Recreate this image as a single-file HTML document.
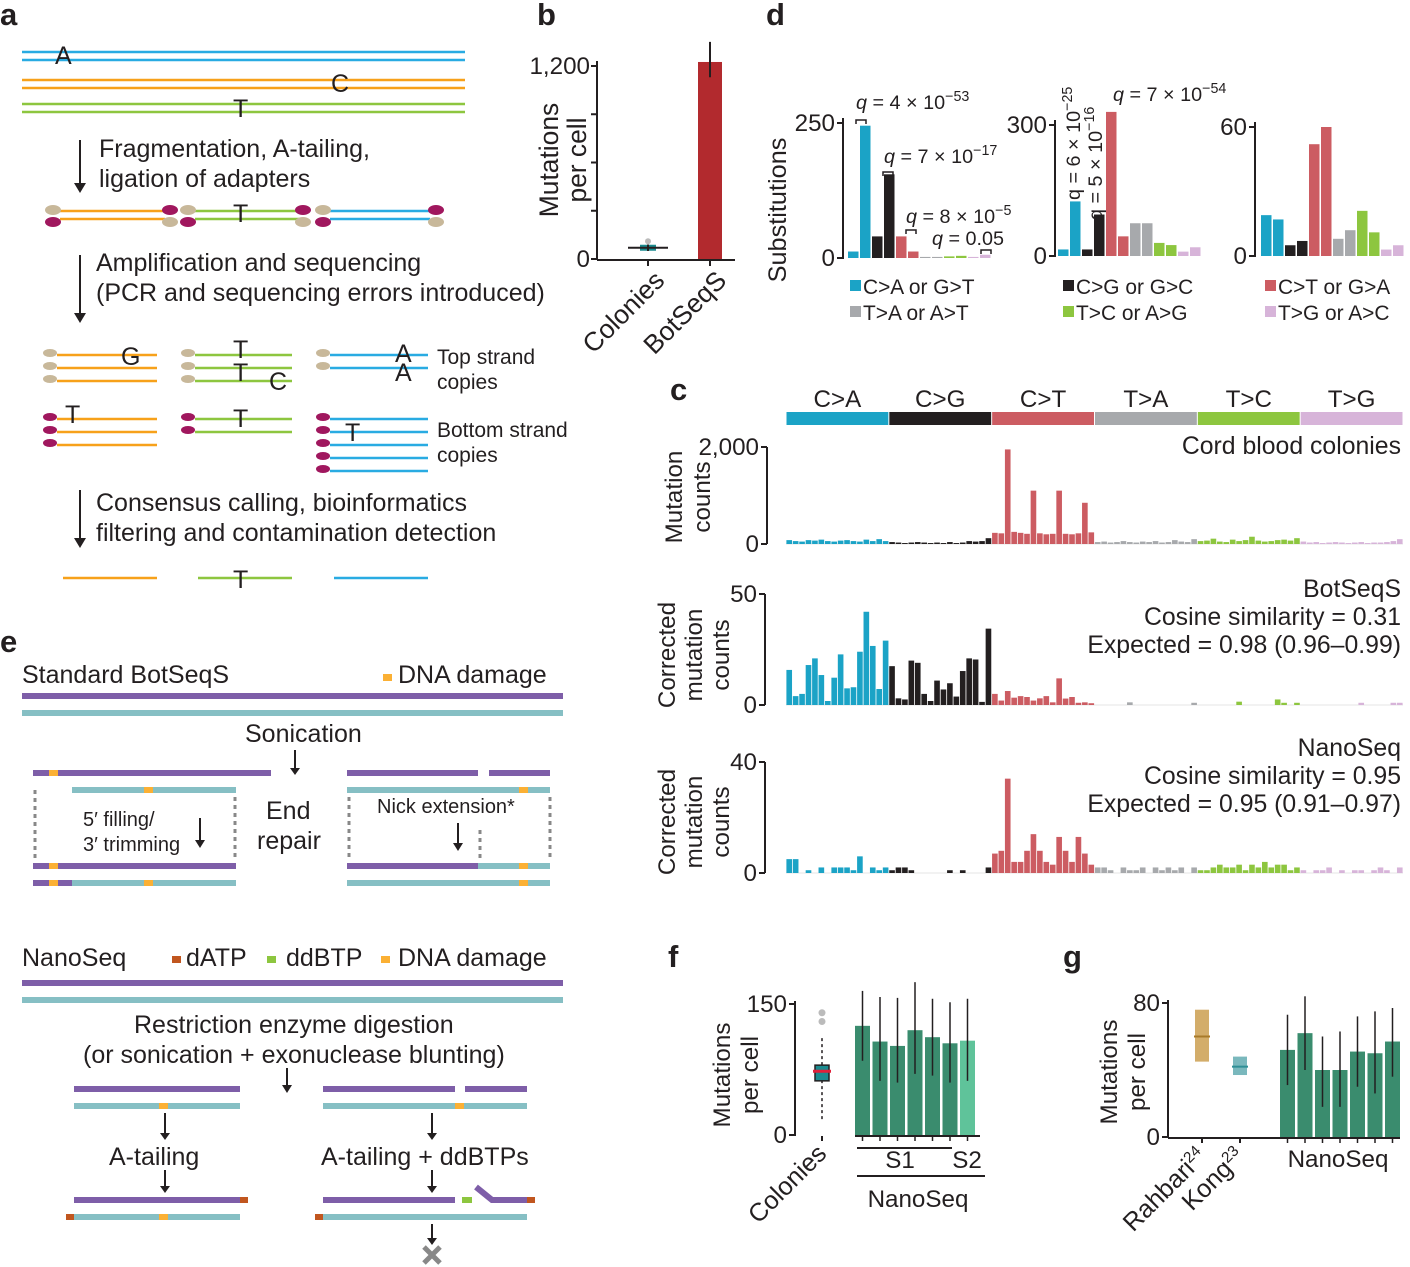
<!DOCTYPE html>
<html><head><meta charset="utf-8">
<style>
html,body{margin:0;padding:0;background:#fff}
svg{display:block;font-family:"Liberation Sans",Arial,sans-serif}
text{fill:#231f20}
</style></head>
<body>
<svg id="fig" width="1410" height="1267" viewBox="0 0 1410 1267" xmlns="http://www.w3.org/2000/svg">
<!-- Panel labels -->
<g font-weight="bold" font-size="31">
<text x="0" y="25">a</text><text x="537" y="25">b</text><text x="766" y="25">d</text>
<text x="670" y="400">c</text><text x="0" y="652">e</text><text x="668" y="967">f</text><text x="1063" y="967">g</text>
</g>

<!-- Panel a -->
<g stroke-width="2.5" fill="none">
<line x1="22" y1="52" x2="465" y2="52" stroke="#29abe2"/><line x1="22" y1="60" x2="465" y2="60" stroke="#29abe2"/>
<line x1="22" y1="80" x2="465" y2="80" stroke="#f7a11a"/><line x1="22" y1="88" x2="465" y2="88" stroke="#f7a11a"/>
<line x1="22" y1="104" x2="465" y2="104" stroke="#8dc63f"/><line x1="22" y1="112" x2="465" y2="112" stroke="#8dc63f"/>
<line x1="80" y1="140" x2="80" y2="185" stroke="#231f20" stroke-width="2"/>
<line x1="80" y1="255" x2="80" y2="315" stroke="#231f20" stroke-width="2"/>
<line x1="80" y1="490" x2="80" y2="540" stroke="#231f20" stroke-width="2"/>
<g fill="#231f20" stroke="none"><polygon points="74,183 86,183 80,193"/><polygon points="74,313 86,313 80,323"/><polygon points="74,538 86,538 80,548"/></g>
<line x1="60" y1="211" x2="165" y2="211" stroke="#f7a11a"/><line x1="60" y1="219" x2="165" y2="219" stroke="#f7a11a"/>
<line x1="195" y1="211" x2="300" y2="211" stroke="#8dc63f"/><line x1="195" y1="219" x2="300" y2="219" stroke="#8dc63f"/>
<line x1="330" y1="211" x2="430" y2="211" stroke="#29abe2"/><line x1="330" y1="219" x2="430" y2="219" stroke="#29abe2"/>
<g stroke="none"><ellipse cx="53" cy="222" rx="8" ry="5" fill="#a0175e"/><ellipse cx="53" cy="210" rx="8" ry="5" fill="#c8b89a"/>
<ellipse cx="170" cy="210" rx="8" ry="5" fill="#a0175e"/><ellipse cx="170" cy="222" rx="8" ry="5" fill="#c8b89a"/>
<ellipse cx="188" cy="222" rx="8" ry="5" fill="#a0175e"/><ellipse cx="188" cy="210" rx="8" ry="5" fill="#c8b89a"/>
<ellipse cx="303" cy="210" rx="8" ry="5" fill="#a0175e"/><ellipse cx="303" cy="222" rx="8" ry="5" fill="#c8b89a"/>
<ellipse cx="323" cy="222" rx="8" ry="5" fill="#a0175e"/><ellipse cx="323" cy="210" rx="8" ry="5" fill="#c8b89a"/>
<ellipse cx="436" cy="210" rx="8" ry="5" fill="#a0175e"/><ellipse cx="436" cy="222" rx="8" ry="5" fill="#c8b89a"/></g>
<g id="copies"></g>
<line x1="63" y1="578" x2="157" y2="578" stroke="#f7a11a"/><line x1="198" y1="578" x2="292" y2="578" stroke="#8dc63f"/><line x1="334" y1="578" x2="428" y2="578" stroke="#29abe2"/>
</g>
<g font-size="25">
<text x="55" y="64">A</text><text x="331" y="92">C</text><text x="233" y="117">T</text>
<text x="233" y="222">T</text>
<text x="99" y="157">Fragmentation, A-tailing,</text><text x="99" y="187">ligation of adapters</text>
<text x="96" y="271">Amplification and sequencing</text><text x="96" y="301">(PCR and sequencing errors introduced)</text>
<text x="96" y="511">Consensus calling, bioinformatics</text><text x="96" y="541">filtering and contamination detection</text>
<text x="233" y="588">T</text>
<g><text x="121" y="365" fill="#2e3192">G</text><text x="269" y="390" fill="#2e3192">C</text><text x="65" y="423" fill="#2e3192">T</text><text x="345" y="441" fill="#2e3192">T</text></g>
<text x="395" y="362">A</text><text x="395" y="381">A</text>
<text x="233" y="358">T</text><text x="233" y="381">T</text><text x="233" y="427">T</text>
<g font-size="21"><text x="437" y="364">Top strand</text><text x="437" y="389">copies</text><text x="437" y="437">Bottom strand</text><text x="437" y="462">copies</text></g>
</g>

<g id="panel-b"></g>
<g id="panel-d"></g>
<g id="panel-c"></g>
<g id="panel-f"></g>
<g id="panel-g"></g>

<!-- Panel e -->
<g stroke-width="6" fill="none">
<line x1="22" y1="696" x2="563" y2="696" stroke="#7e5ea8"/><line x1="22" y1="713" x2="563" y2="713" stroke="#86bfc4"/>
<line x1="33" y1="773" x2="271" y2="773" stroke="#7e5ea8"/><line x1="72" y1="790" x2="236" y2="790" stroke="#86bfc4"/>
<line x1="33" y1="866" x2="236" y2="866" stroke="#7e5ea8"/><line x1="33" y1="883" x2="72" y2="883" stroke="#7e5ea8"/><line x1="72" y1="883" x2="236" y2="883" stroke="#86bfc4"/>
<line x1="347" y1="773" x2="478" y2="773" stroke="#7e5ea8"/><line x1="489" y1="773" x2="550" y2="773" stroke="#7e5ea8"/><line x1="347" y1="790" x2="550" y2="790" stroke="#86bfc4"/>
<line x1="347" y1="866" x2="478" y2="866" stroke="#7e5ea8"/><line x1="478" y1="866" x2="550" y2="866" stroke="#86bfc4"/><line x1="347" y1="883" x2="550" y2="883" stroke="#86bfc4"/>
<line x1="22" y1="983" x2="563" y2="983" stroke="#7e5ea8"/><line x1="22" y1="1000" x2="563" y2="1000" stroke="#86bfc4"/>
<line x1="74" y1="1089" x2="240" y2="1089" stroke="#7e5ea8"/><line x1="74" y1="1106" x2="240" y2="1106" stroke="#86bfc4"/>
<line x1="323" y1="1089" x2="455" y2="1089" stroke="#7e5ea8"/><line x1="465" y1="1089" x2="527" y2="1089" stroke="#7e5ea8"/><line x1="323" y1="1106" x2="527" y2="1106" stroke="#86bfc4"/>
<line x1="74" y1="1200" x2="240" y2="1200" stroke="#7e5ea8"/><line x1="74" y1="1217" x2="240" y2="1217" stroke="#86bfc4"/>
<line x1="323" y1="1200" x2="455" y2="1200" stroke="#7e5ea8"/><polyline points="476,1187 492,1200 527,1200" stroke="#7e5ea8"/><line x1="323" y1="1217" x2="527" y2="1217" stroke="#86bfc4"/>
<g stroke="#888" stroke-width="3" stroke-dasharray="4,4"><line x1="35" y1="790" x2="35" y2="860"/><line x1="235" y1="797" x2="235" y2="860"/><line x1="349" y1="797" x2="349" y2="860"/><line x1="550" y1="797" x2="550" y2="860"/><line x1="480" y1="830" x2="480" y2="860"/></g>
<g stroke="none"><rect x="49" y="770" width="9" height="6" fill="#fbb034"/><rect x="144" y="787" width="9" height="6" fill="#fbb034"/><rect x="49" y="863" width="9" height="6" fill="#fbb034"/><rect x="49" y="880" width="9" height="6" fill="#fbb034"/><rect x="144" y="880" width="9" height="6" fill="#fbb034"/>
<rect x="519" y="787" width="9" height="6" fill="#fbb034"/><rect x="519" y="863" width="9" height="6" fill="#fbb034"/><rect x="519" y="880" width="9" height="6" fill="#fbb034"/>
<rect x="159" y="1103" width="9" height="6" fill="#fbb034"/><rect x="159" y="1214" width="9" height="6" fill="#fbb034"/><rect x="455" y="1103" width="9" height="6" fill="#fbb034"/>
<rect x="240" y="1197" width="8" height="6" fill="#c1561f"/><rect x="66" y="1214" width="8" height="6" fill="#c1561f"/><rect x="527" y="1197" width="8" height="6" fill="#c1561f"/><rect x="315" y="1214" width="8" height="6" fill="#c1561f"/><rect x="462" y="1197" width="10" height="6" fill="#8dc63f"/>
<rect x="383" y="674" width="9" height="7" fill="#fbb034"/><rect x="172" y="956" width="9" height="7" fill="#c1561f"/><rect x="267" y="956" width="9" height="7" fill="#8dc63f"/><rect x="381" y="956" width="9" height="7" fill="#fbb034"/></g>
<g stroke="#231f20" stroke-width="2"><line x1="295" y1="750" x2="295" y2="768"/><line x1="200" y1="818" x2="200" y2="840"/><line x1="458" y1="823" x2="458" y2="843"/><line x1="287" y1="1068" x2="287" y2="1085"/><line x1="165" y1="1113" x2="165" y2="1133"/><line x1="165" y1="1170" x2="165" y2="1186"/><line x1="432" y1="1113" x2="432" y2="1133"/><line x1="432" y1="1170" x2="432" y2="1186"/><line x1="432" y1="1224" x2="432" y2="1238"/></g>
<g fill="#231f20" stroke="none"><polygon points="290,768 300,768 295,775"/><polygon points="195,840 205,840 200,848"/><polygon points="453,843 463,843 458,851"/><polygon points="282,1085 292,1085 287,1093"/><polygon points="160,1133 170,1133 165,1140"/><polygon points="160,1186 170,1186 165,1193"/><polygon points="427,1133 437,1133 432,1140"/><polygon points="427,1186 437,1186 432,1193"/><polygon points="427,1238 437,1238 432,1245"/></g>
<g stroke="#888" stroke-width="5"><line x1="424" y1="1247" x2="440" y2="1263"/><line x1="440" y1="1247" x2="424" y2="1263"/></g>
</g>
<g font-size="25">
<text x="22" y="683">Standard BotSeqS</text><text x="398" y="683">DNA damage</text>
<text x="245" y="742">Sonication</text><text x="266" y="819">End</text><text x="257" y="849">repair</text>
<text x="22" y="966">NanoSeq</text><text x="186" y="966">dATP</text><text x="286" y="966">ddBTP</text><text x="398" y="966">DNA damage</text>
<text x="134" y="1033">Restriction enzyme digestion</text><text x="83" y="1063">(or sonication + exonuclease blunting)</text>
<text x="109" y="1165">A-tailing</text><text x="321" y="1165">A-tailing + ddBTPs</text>
<g font-size="20"><text x="83" y="826">5′ filling/</text><text x="83" y="851">3′ trimming</text><text x="377" y="813">Nick extension*</text></g>
</g>

<script>
const NS="http://www.w3.org/2000/svg";
function mk(p,t,a,txt){const e=document.createElementNS(NS,t);for(const k in a){let v=a[k];if(k==="font-size")v=(+v*1.1).toFixed(1);e.setAttribute(k,v);}if(txt!==undefined)e.textContent=txt;p.appendChild(e);return e;}
const COLS=["#1ba3c6","#231f20","#cc5c62","#a7a9ac","#8dc63f","#d7b4d9"];
const TYPES=["C>A","C>G","C>T","T>A","T>C","T>G"];

(function(){const g=document.getElementById("copies");
const groups=[[45,157,"#f7a11a",[355,368,381],true],[183,292,"#8dc63f",[355,368,381],true],[318,428,"#29abe2",[355,368],true],
[45,157,"#f7a11a",[419,432,445],false],[183,292,"#8dc63f",[419,432],false],[318,428,"#29abe2",[419,432,445,458,471],false]];
groups.forEach(gr=>{gr[3].forEach(y=>{const l=mk(g,"line",{x1:gr[0]+12,y1:y,x2:gr[1],y2:y,stroke:gr[2],"stroke-width":2.5});


const e=mk(g,"ellipse",{cx:gr[0]+5,cy:y-2,rx:7,ry:4,fill:gr[4]?"#c8b89a":"#a0175e",stroke:"none"});

});});})();

/* ---------- Panel b data ---------- */
const bCats=["Colonies","BotSeqS"];
const bVals=[70,1225];
const bErrLo=[50,1130];
const bErrHi=[90,1350];
const bTicks=[0,1200];
(function(){const g=document.getElementById("panel-b");
const y=v=>259-v*(193/1200);
mk(g,"line",{x1:597,y1:y(1200)-5,x2:597,y2:260,stroke:"#231f20","stroke-width":2});
mk(g,"line",{x1:597,y1:260,x2:735,y2:260,stroke:"#231f20","stroke-width":2});
[0,300,600,900,1200].forEach(t=>mk(g,"line",{x1:591,y1:y(t),x2:597,y2:y(t),stroke:"#231f20","stroke-width":2}));
bTicks.forEach(t=>{const tx=mk(g,"text",{x:590,y:y(t)+8,"text-anchor":"end","font-size":22},t.toLocaleString("en-US"));

});
const xs=[648,710];
bCats.forEach((c,i)=>{
 if(i===1){const r=mk(g,"rect",{x:xs[i]-12,y:y(bVals[i]),width:24,height:259-y(bVals[i]),fill:"#b22a2e"});
  
  }
 else{const r=mk(g,"rect",{x:xs[i]-8,y:y(bVals[i])-3,width:16,height:6,fill:"#1b8b8f"});
  
  
  mk(g,"line",{x1:xs[i]-20,y1:y(bVals[i]),x2:xs[i]+20,y2:y(bVals[i]),stroke:"#231f20","stroke-width":2});
  mk(g,"circle",{cx:xs[i],cy:y(110),r:3,fill:"#bbb"});}
 mk(g,"line",{x1:xs[i],y1:y(bErrHi[i]),x2:xs[i],y2:y(bErrLo[i]),stroke:"#231f20","stroke-width":2});
 mk(g,"line",{x1:xs[i],y1:260,x2:xs[i],y2:266,stroke:"#231f20","stroke-width":2});
 const t=mk(g,"text",{x:xs[i]+18,y:282,"text-anchor":"end","font-size":24,transform:`rotate(-45 ${xs[i]+18} 282)`},c);
 
 });
const yt=mk(g,"text",{x:558,y:160,"text-anchor":"middle","font-size":24,transform:"rotate(-90 558 160)"},"Mutations");


mk(g,"text",{x:586,y:160,"text-anchor":"middle","font-size":24,transform:"rotate(-90 586 160)"},"per cell");
})();

/* ---------- Panel d data ---------- */
const dPanel1=[12,245,40,155,40,12,2,2,3,4,2,6];
const dPanel2=[15,125,15,95,330,45,75,75,30,25,10,20];
const dPanel3=[19,17,5,7,52,60,8,12,21,11,3,5];
const dTickMax=[250,300,60];
(function(){const g=document.getElementById("panel-d");
const defs=[{d:dPanel1,ax:843,base:258,top:123,max:dTickMax[0],x0:853},{d:dPanel2,ax:1055,base:256,top:125,max:dTickMax[1],x0:1063},{d:dPanel3,ax:1255,base:256,top:127,max:dTickMax[2],x0:1266}];
defs.forEach((p,pi)=>{
 const y=v=>p.base-v*(p.base-p.top)/p.max;
 mk(g,"line",{x1:p.ax,y1:p.top-5,x2:p.ax,y2:p.base+1,stroke:"#231f20","stroke-width":2});
 [0,p.max].forEach(t=>{mk(g,"line",{x1:p.ax-6,y1:y(t),x2:p.ax,y2:y(t),stroke:"#231f20","stroke-width":2});
  const tx=mk(g,"text",{x:p.ax-8,y:y(t)+8,"text-anchor":"end","font-size":22},t);
  
  });
 p.d.forEach((v,i)=>{const r=mk(g,"rect",{x:p.x0+i*12-5,y:y(v),width:10.5,height:p.base-y(v),fill:COLS[Math.floor(i/2)]});
  
  });
});
const yt=mk(g,"text",{x:786,y:210,"text-anchor":"middle","font-size":23,transform:"rotate(-90 786 210)"},"Substitutions");


const qs=[[856,109,"q = 4 × 10","−53"],[884,163,"q = 7 × 10","−17"],[906,223,"q = 8 × 10","−5"],[932,245,"q = 0.05",""],[1113,101,"q = 7 × 10","−54"]];
qs.forEach(q=>{const t=mk(g,"text",{x:q[0],y:q[1],"font-size":18},"");
 mk(t,"tspan",{"font-style":"italic"},"q");mk(t,"tspan",{},q[2].slice(1));
 if(q[3])mk(t,"tspan",{dy:-8,"font-size":13},q[3]);
 
 });
[["q = 6 × 10","−25",1080,200],["q = 5 × 10","−16",1102,220]].forEach(q=>{
 const t=mk(g,"text",{x:q[2],y:q[3],"font-size":18,transform:`rotate(-90 ${q[2]} ${q[3]})`},q[0]);
 mk(t,"tspan",{dy:-8,"font-size":13},q[1]);
 
 });
[[856,866,120],[883,893,172],[906,916,230],[981,991,250]].forEach(b=>mk(g,"path",{d:`M${b[0]},${b[2]+4}V${b[2]}H${b[1]}V${b[2]+4}`,stroke:"#231f20","stroke-width":1.5,fill:"none"}));
const leg=[[850,293,0,"C>A or G>T"],[850,319,3,"T>A or A>T"],[1063,293,1,"C>G or G>C"],[1063,319,4,"T>C or A>G"],[1265,293,2,"C>T or G>A"],[1265,319,5,"T>G or A>C"]];
leg.forEach(l=>{mk(g,"rect",{x:l[0],y:l[1]-13,width:11,height:11,fill:COLS[l[2]]});
 const t=mk(g,"text",{x:l[0]+13,y:l[1]+1,"font-size":19},l[3]);
 
 });
})();

/* ---------- Panel c data ---------- */
const cCord=[80,60,50,80,70,90,60,50,70,80,60,50,90,60,100,60, 40,30,20,30,40,30,20,30,20,40,20,30,60,50,60,120,
 230,220,1950,250,230,210,1100,220,200,210,1100,210,200,220,850,240, 40,50,30,40,60,40,30,50,40,60,30,40,80,50,40,100,
 60,70,110,50,40,90,60,80,150,70,50,60,80,90,70,120, 50,30,40,20,30,40,30,20,30,40,20,30,30,40,60,100];
const cBot=[15.8,4,5,18,21,13.5,1.8,12.3,22.8,7.5,8,24,42,26.6,7.2,29, 17.5,3,2.5,20,19,5,1.8,11,7,9.8,3.8,15.3,21,20.5,1.4,34.4,
 5,2,6.3,3.3,4,3.6,2,3,4,1.2,12,2.9,3.6,1,1.2,0.8, 0,0,0,0,0,1.2,0,0,0,0,0,0,0,0,0,1,
 0,0,0,0,0,0,1.5,0,0,0,0,0,2.5,1,0,1, 0,0,0,0,0,0,0,0,0,1,0,0,0,0,1,1];
const cNano=[5,5,0,1,0,2,0,2,2,2,1,6,0,2,1,2, 1,2,2,1,0,0,0,0,0,1,0,1,0,0,0,2,
 7,8,34,4,4,8,14,8,4,3,13,8,4,13,7,3, 2,2,1,0,2,1,1,2,0,2,1,2,1,2,0,2,
 1,1,2,3,2,2,3,1,3,2,4,2,3,3,1,2, 1,0,1,1,2,0,1,0,1,1,0,1,2,1,0,2];
const cRowMax=[2000,50,40];
(function(){const g=document.getElementById("panel-c");
const X0=786,X1=1403,w=(X1-X0)/96;
TYPES.forEach((t,i)=>{const r=mk(g,"rect",{x:X0+i*16*w+0.5,y:412,width:16*w-1,height:13,fill:COLS[i]});
 
 
 const tx=mk(g,"text",{x:X0+(i+0.5)*16*w,y:407,"text-anchor":"middle","font-size":22},t);
 
 });
const rows=[{d:cCord,base:544,top:447,max:cRowMax[0],ax:767,title:["Mutation","counts"],lab:["Cord blood colonies"],ly:454,tx:[682,710],tyc:497},
{d:cBot,base:705,top:594,max:cRowMax[1],ax:765,title:["Corrected","mutation","counts"],lab:["BotSeqS","Cosine similarity = 0.31","Expected = 0.98 (0.96–0.99)"],ly:597,tx:[675,702,729],tyc:655},
{d:cNano,base:873,top:762,max:cRowMax[2],ax:765,title:["Corrected","mutation","counts"],lab:["NanoSeq","Cosine similarity = 0.95","Expected = 0.95 (0.91–0.97)"],ly:756,tx:[675,702,729],tyc:822}];
rows.forEach((r,ri)=>{
 const y=v=>r.base-v*(r.base-r.top)/r.max;
 mk(g,"line",{x1:r.ax,y1:r.top,x2:r.ax,y2:r.base,stroke:"#231f20","stroke-width":2});
 [0,r.max].forEach(t=>{mk(g,"line",{x1:r.ax-6,y1:y(t),x2:r.ax,y2:y(t),stroke:"#231f20","stroke-width":2});
  const tx=mk(g,"text",{x:r.ax-8,y:y(t)+8,"text-anchor":"end","font-size":22},t.toLocaleString("en-US"));
  
  });
 mk(g,"line",{x1:X0,y1:r.base,x2:X1,y2:r.base,stroke:"#e6e6e6","stroke-width":1});
 r.d.forEach((v,i)=>{const b=mk(g,"rect",{x:X0+i*w+0.4,y:y(v),width:w-0.8,height:Math.max(0,r.base-y(v)),fill:COLS[Math.floor(i/16)]});
  
  });
 r.title.forEach((s,k)=>{const t=mk(g,"text",{x:r.tx[k],y:r.tyc,"text-anchor":"middle","font-size":22,transform:`rotate(-90 ${r.tx[k]} ${r.tyc})`},s);
  
  });
 r.lab.forEach((s,k)=>{const t=mk(g,"text",{x:1401,y:r.ly+k*28,"text-anchor":"end","font-size":22.5},s);
  
  });
});})();

/* ---------- Panel f data ---------- */
const fVals=[125,107,102,120,112,105,108];
const fErrHi=[165,158,157,175,156,152,156];
const fErrLo=[85,62,60,70,68,60,62];
const fBox=[52,62,73,80,88];
(function(){const g=document.getElementById("panel-f");
const y=v=>1135-v*(131/150);
mk(g,"line",{x1:795,y1:y(150)-3,x2:795,y2:1136,stroke:"#231f20","stroke-width":2});
[0,150].forEach(t=>{mk(g,"line",{x1:789,y1:y(t),x2:795,y2:y(t),stroke:"#231f20","stroke-width":2});
 const tx=mk(g,"text",{x:787,y:y(t)+8,"text-anchor":"end","font-size":22},t);
 
 });
mk(g,"line",{x1:822,y1:y(fBox[4])-20,x2:822,y2:y(fBox[0])+30,stroke:"#231f20","stroke-width":1.5,"stroke-dasharray":"3,3"});
const bx=mk(g,"rect",{x:815,y:y(fBox[3]),width:14,height:y(fBox[1])-y(fBox[3]),fill:"#1b8b8f",stroke:"#231f20","stroke-width":1.5});


mk(g,"line",{x1:813,y1:y(fBox[2]),x2:831,y2:y(fBox[2]),stroke:"#e0203a","stroke-width":3});
[130,140].forEach(v=>mk(g,"circle",{cx:822,cy:y(v),r:3.5,fill:"#bbb"}));
fVals.forEach((v,i)=>{const x=855+i*17.5;
 const r=mk(g,"rect",{x:x,y:y(v),width:15,height:1135-y(v),fill:i===6?"#5fc39a":"#3a8c6e"});
 
 
 mk(g,"line",{x1:x+7.5,y1:y(fErrHi[i]),x2:x+7.5,y2:y(fErrLo[i]),stroke:"#231f20","stroke-width":1.5});
 mk(g,"line",{x1:x+7.5,y1:1136,x2:x+7.5,y2:1141,stroke:"#231f20","stroke-width":1.5});});
mk(g,"line",{x1:855,y1:1136,x2:980,y2:1136,stroke:"#231f20","stroke-width":2});
mk(g,"line",{x1:822,y1:1136,x2:822,y2:1141,stroke:"#231f20","stroke-width":2});
mk(g,"line",{x1:857,y1:1148,x2:952,y2:1148,stroke:"#231f20","stroke-width":2});
mk(g,"line",{x1:857,y1:1176,x2:985,y2:1176,stroke:"#231f20","stroke-width":2});
[["S1",900,1168],["S2",967,1168],["NanoSeq",918,1207]].forEach(s=>{const t=mk(g,"text",{x:s[1],y:s[2],"text-anchor":"middle","font-size":22},s[0]);
 
 });
const c=mk(g,"text",{x:828,y:1155,"text-anchor":"end","font-size":23,transform:"rotate(-45 828 1155)"},"Colonies");


mk(g,"text",{x:730,y:1075,"text-anchor":"middle","font-size":22,transform:"rotate(-90 730 1075)"},"Mutations");
mk(g,"text",{x:758,y:1075,"text-anchor":"middle","font-size":22,transform:"rotate(-90 758 1075)"},"per cell");
})();

/* ---------- Panel g data ---------- */
const gRef=[60,42];
const gRefLo=[45,37];
const gRefHi=[76,48];
const gVals=[52,62,40,40,51,50,57];
const gErrHi=[73,84,60,63,72,75,77];
const gErrLo=[31,40,18,18,30,26,36];
(function(){const g=document.getElementById("panel-g");
const y=v=>1137-v*(134/80);
mk(g,"line",{x1:1168,y1:y(80)-3,x2:1168,y2:1138,stroke:"#231f20","stroke-width":2});
[0,80].forEach(t=>{mk(g,"line",{x1:1162,y1:y(t),x2:1168,y2:y(t),stroke:"#231f20","stroke-width":2});
 const tx=mk(g,"text",{x:1160,y:y(t)+8,"text-anchor":"end","font-size":22},t);
 
 });
mk(g,"line",{x1:1168,y1:1138,x2:1400,y2:1138,stroke:"#231f20","stroke-width":2});
const rc=[["#d3ad6a","#a87a2a",1202],["#7ab8bd","#2f8f96",1240]];
gRef.forEach((v,i)=>{const r=mk(g,"rect",{x:rc[i][2]-7,y:y(gRefHi[i]),width:14,height:y(gRefLo[i])-y(gRefHi[i]),fill:rc[i][0]});
 
 
 mk(g,"line",{x1:rc[i][2]-8,y1:y(v),x2:rc[i][2]+8,y2:y(v),stroke:rc[i][1],"stroke-width":2});
 mk(g,"line",{x1:rc[i][2],y1:1138,x2:rc[i][2],y2:1143,stroke:"#231f20","stroke-width":2});});
gVals.forEach((v,i)=>{const x=1280+i*17.5;
 const r=mk(g,"rect",{x:x,y:y(v),width:15,height:1137-y(v),fill:"#3a8c6e"});
 
 
 mk(g,"line",{x1:x+7.5,y1:y(gErrHi[i]),x2:x+7.5,y2:y(gErrLo[i]),stroke:"#231f20","stroke-width":1.5});
 mk(g,"line",{x1:x+7.5,y1:1138,x2:x+7.5,y2:1143,stroke:"#231f20","stroke-width":1.5});});
[["Rahbari","24",1208],["Kong","23",1246]].forEach(s=>{const t=mk(g,"text",{x:s[2],y:1158,"text-anchor":"end","font-size":23,transform:`rotate(-45 ${s[2]} 1158)`},s[0]);
 mk(t,"tspan",{dy:-9,"font-size":14},s[1]);
 
 });
mk(g,"text",{x:1338,y:1167,"text-anchor":"middle","font-size":22},"NanoSeq");
mk(g,"text",{x:1117,y:1072,"text-anchor":"middle","font-size":22,transform:"rotate(-90 1117 1072)"},"Mutations");
mk(g,"text",{x:1145,y:1072,"text-anchor":"middle","font-size":22,transform:"rotate(-90 1145 1072)"},"per cell");
})();
</script>
</svg>
</body></html>
